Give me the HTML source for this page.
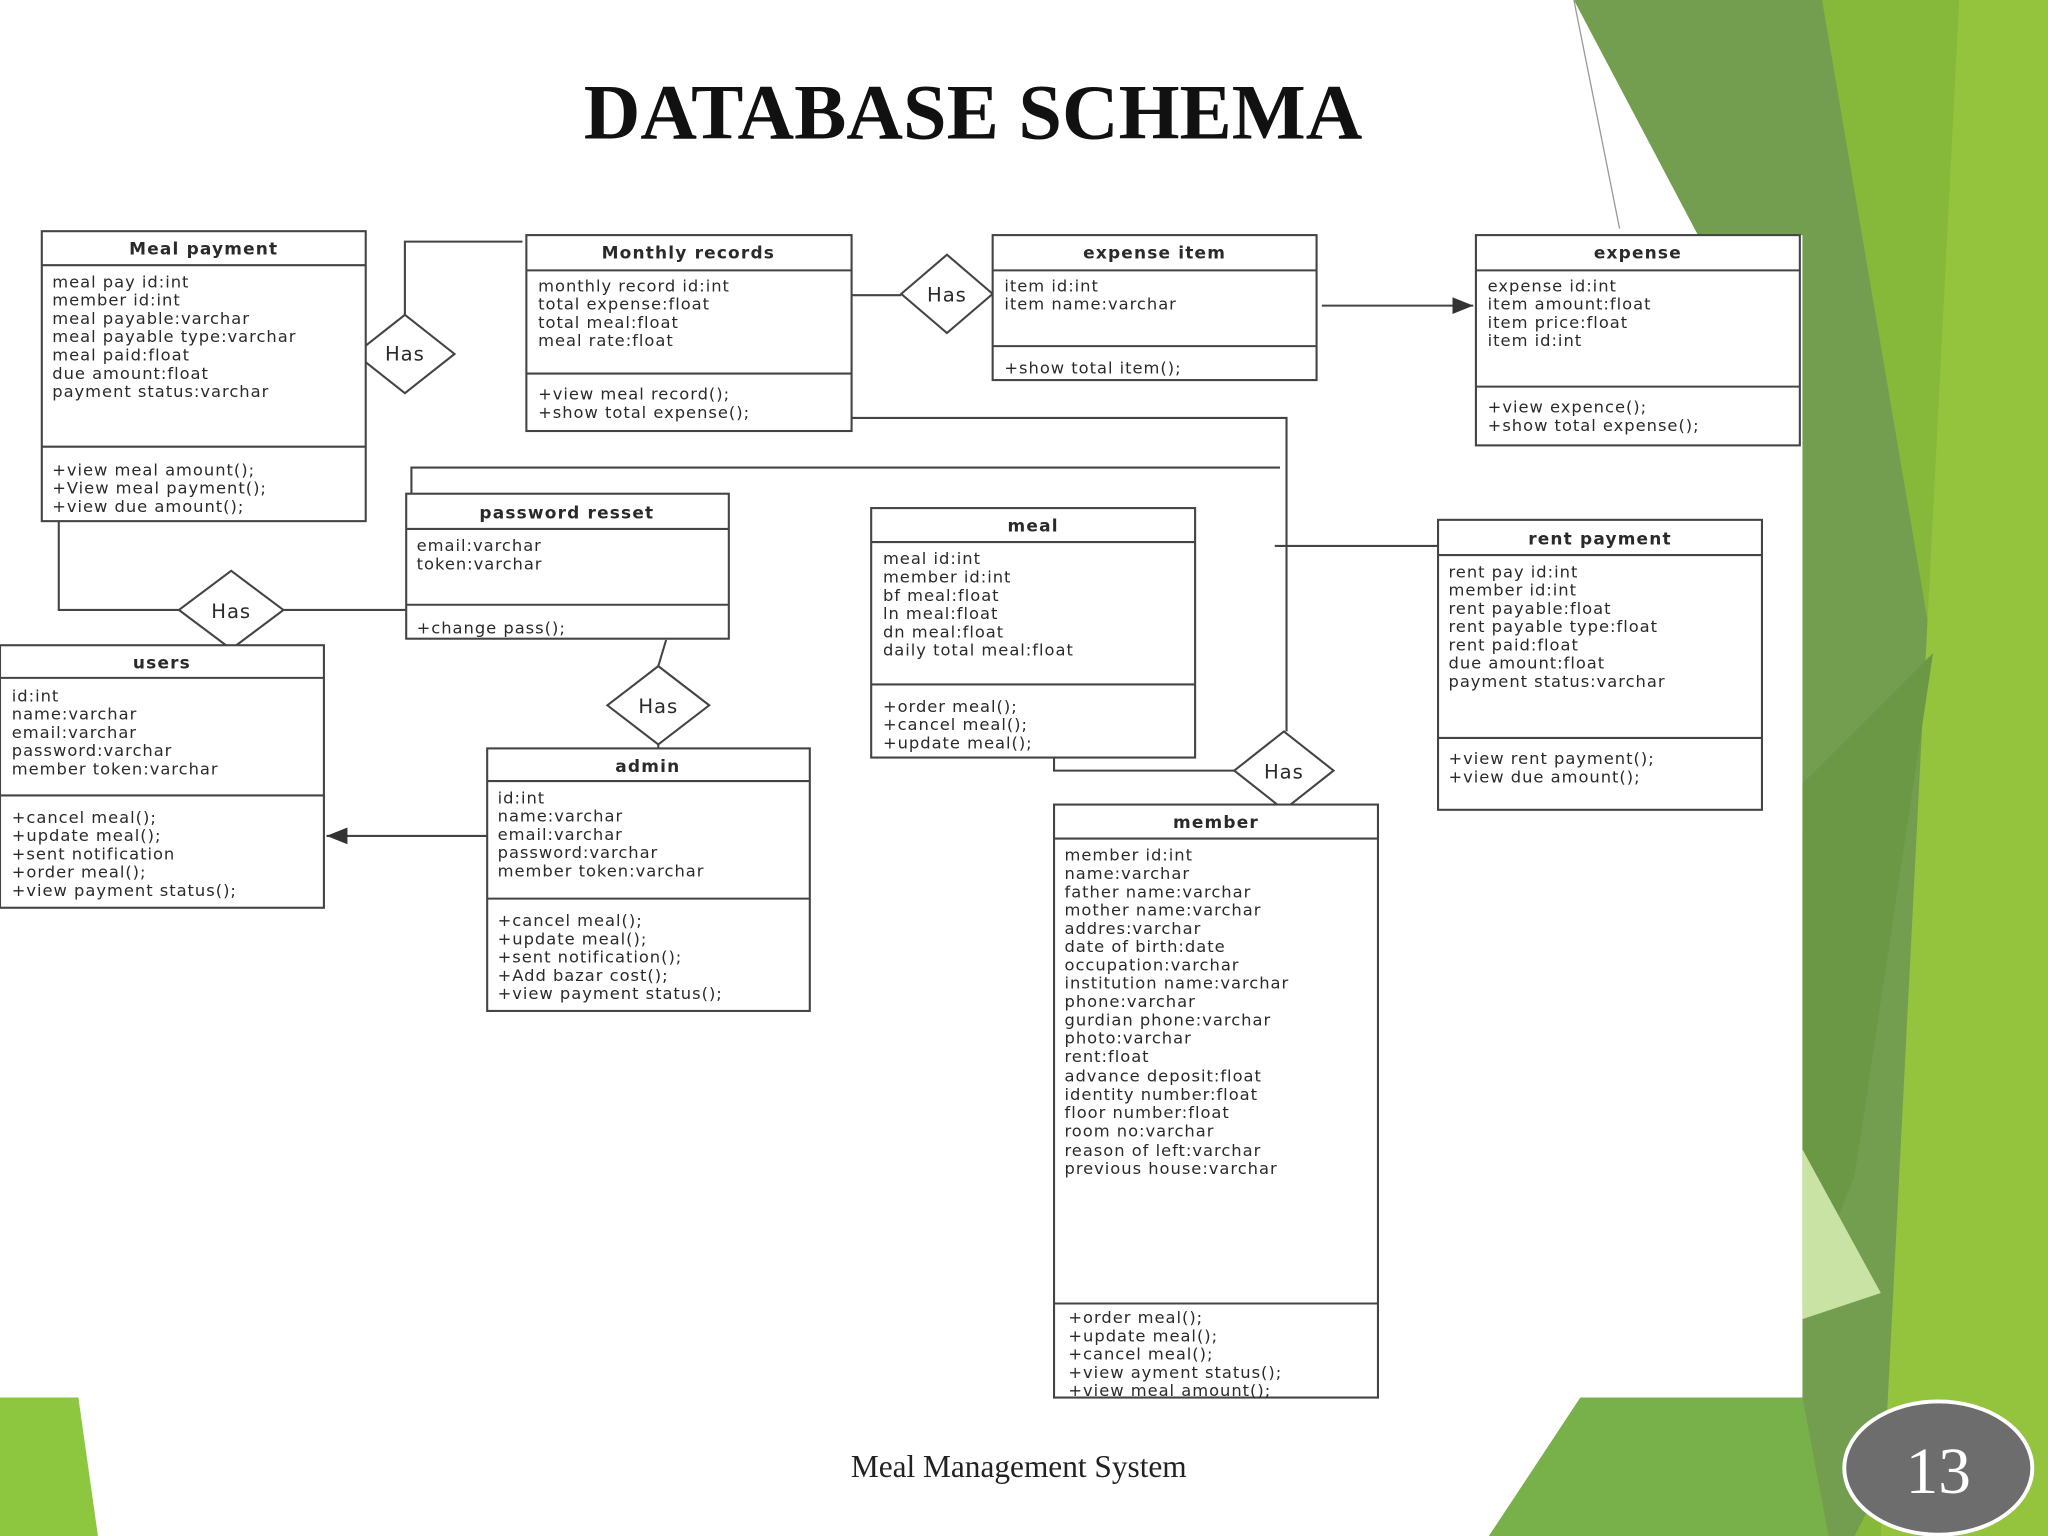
<!DOCTYPE html>
<html><head><meta charset="utf-8"><style>
html,body{margin:0;padding:0;background:#fff;}
svg{display:block;}
.t{font-family:"DejaVu Sans",sans-serif;font-size:12.5px;letter-spacing:0.75px;fill:#2a2a2a;}
.h{font-family:"DejaVu Sans",sans-serif;font-size:13px;letter-spacing:0.9px;font-weight:bold;fill:#2a2a2a;}
.b{fill:#fff;stroke:#444;stroke-width:1.6;}
.l{stroke:#444;stroke-width:1.6;fill:none;}
</style></head><body>
<svg width="2048" height="1536" viewBox="0 0 1568 1176" xmlns="http://www.w3.org/2000/svg">
<defs><marker id="a" markerWidth="10" markerHeight="8" refX="10" refY="4" orient="auto"><path d="M0,0L10,4L0,8z" fill="#333"/></marker></defs>
<rect width="1568" height="1176" fill="#fff"/>
<polygon points="1205,0 1568,0 1568,1176 1140,1176 1210,1070 1380,1070 1380,180 1300,180" fill="#739e50"/>
<polygon points="1395,0 1568,0 1568,1176 1420,1176 1560,900 1480,500" fill="#86b83a"/>
<polygon points="1500,0 1568,0 1568,1176 1440,1176" fill="#94c33d"/>
<polygon points="1380,600 1480,500 1420,900 1380,1000" fill="#6a9844"/>
<polygon points="1380,880 1440,990 1380,1010" fill="#c9e3a5"/>
<polygon points="1210,1070 1380,1070 1400,1176 1140,1176" fill="#78b04a"/>
<polygon points="0,1070 60,1070 75,1176 0,1176" fill="#8dc63f"/>
<line x1="1205" y1="0" x2="1240" y2="175" stroke="#999" stroke-width="1"/>
<text x="745" y="106" text-anchor="middle" font-family="Liberation Serif,serif" font-weight="bold" font-size="60" fill="#111">DATABASE SCHEMA</text>
<text x="780" y="1131" text-anchor="middle" font-family="Liberation Serif,serif" font-size="24" fill="#222">Meal Management System</text>
<ellipse cx="1484" cy="1124" rx="72" ry="51" fill="#6d6d6d" stroke="#fff" stroke-width="3"/>
<text x="1484" y="1143" text-anchor="middle" font-family="Liberation Serif,serif" font-size="50" fill="#fff">13</text>

<path class="l" d="M310,241V185H400"/>
<path class="l" d="M652,226H690"/>
<line class="l" x1="1012" y1="234" x2="1128" y2="234" marker-end="url(#a)"/>
<path class="l" d="M652,320H985V560"/>
<path class="l" d="M315,378V358H980"/>
<path class="l" d="M976,418H1101"/>
<path class="l" d="M807,580V590H945"/>
<path class="l" d="M45,399V467H137M217,467H311"/>
<path class="l" d="M510,490L504,510M504,570V573"/>
<line class="l" x1="373" y1="640" x2="250" y2="640" marker-end="url(#a)"/>

<g class="b">
<polygon points="272,271 310,241 348,271 310,301"/>
<polygon points="690,225 725,195 760,225 725,255"/>
<polygon points="137,467 177,437 217,467 177,497"/>
<polygon points="465,540 504,510 543,540 504,570"/>
<polygon points="945,590 983,560 1021,590 983,620"/>
</g>
<g class="t" text-anchor="middle">
<text x="310" y="276" font-size="15">Has</text><text x="725" y="231" font-size="15">Has</text><text x="177" y="473" font-size="15">Has</text><text x="504" y="546" font-size="15">Has</text><text x="983" y="596" font-size="15">Has</text>
</g>

<rect class="b" x="32" y="177" width="248" height="222"/><path class="l" d="M32,203H280M32,342H280"/>
<text class="h" x="156" y="195" text-anchor="middle">Meal payment</text>
<g class="t"><text x="40" y="220">meal pay id:int</text><text x="40" y="234">member id:int</text><text x="40" y="248">meal payable:varchar</text><text x="40" y="262">meal payable type:varchar</text><text x="40" y="276">meal paid:float</text><text x="40" y="290">due amount:float</text><text x="40" y="304">payment status:varchar</text>
<text x="40" y="364">+view meal amount();</text><text x="40" y="378">+View meal payment();</text><text x="40" y="392">+view due amount();</text></g>

<rect class="b" x="403" y="180" width="249" height="150"/><path class="l" d="M403,207H652M403,286H652"/>
<text class="h" x="527" y="198" text-anchor="middle">Monthly records</text>
<g class="t"><text x="412" y="223">monthly record id:int</text><text x="412" y="237">total expense:float</text><text x="412" y="251">total meal:float</text><text x="412" y="265">meal rate:float</text>
<text x="412" y="306">+view meal record();</text><text x="412" y="320">+show total expense();</text></g>

<rect class="b" x="760" y="180" width="248" height="111"/><path class="l" d="M760,207H1008M760,265H1008"/>
<text class="h" x="884" y="198" text-anchor="middle">expense item</text>
<g class="t"><text x="769" y="223">item id:int</text><text x="769" y="237">item name:varchar</text><text x="769" y="286">+show total item();</text></g>

<rect class="b" x="1130" y="180" width="248" height="161"/><path class="l" d="M1130,207H1378M1130,296H1378"/>
<text class="h" x="1254" y="198" text-anchor="middle">expense</text>
<g class="t"><text x="1139" y="223">expense id:int</text><text x="1139" y="237">item amount:float</text><text x="1139" y="251">item price:float</text><text x="1139" y="265">item id:int</text>
<text x="1139" y="316">+view expence();</text><text x="1139" y="330">+show total expense();</text></g>

<rect class="b" x="311" y="378" width="247" height="111"/><path class="l" d="M311,405H558M311,463H558"/>
<text class="h" x="434" y="397" text-anchor="middle">password resset</text>
<g class="t"><text x="319" y="422">email:varchar</text><text x="319" y="436">token:varchar</text><text x="319" y="485">+change pass();</text></g>

<rect class="b" x="667" y="389" width="248" height="191"/><path class="l" d="M667,415H915M667,524H915"/>
<text class="h" x="791" y="407" text-anchor="middle">meal</text>
<g class="t"><text x="676" y="432">meal id:int</text><text x="676" y="446">member id:int</text><text x="676" y="460">bf meal:float</text><text x="676" y="474">ln meal:float</text><text x="676" y="488">dn meal:float</text><text x="676" y="502">daily total meal:float</text>
<text x="676" y="545">+order meal();</text><text x="676" y="559">+cancel meal();</text><text x="676" y="573">+update meal();</text></g>

<rect class="b" x="1101" y="398" width="248" height="222"/><path class="l" d="M1101,425H1349M1101,565H1349"/>
<text class="h" x="1225" y="417" text-anchor="middle">rent payment</text>
<g class="t"><text x="1109" y="442">rent pay id:int</text><text x="1109" y="456">member id:int</text><text x="1109" y="470">rent payable:float</text><text x="1109" y="484">rent payable type:float</text><text x="1109" y="498">rent paid:float</text><text x="1109" y="512">due amount:float</text><text x="1109" y="526">payment status:varchar</text>
<text x="1109" y="585">+view rent payment();</text><text x="1109" y="599">+view due amount();</text></g>

<rect class="b" x="0" y="494" width="248" height="201"/><path class="l" d="M0,519H248M0,609H248"/>
<text class="h" x="124" y="512" text-anchor="middle">users</text>
<g class="t"><text x="9" y="537">id:int</text><text x="9" y="551">name:varchar</text><text x="9" y="565">email:varchar</text><text x="9" y="579">password:varchar</text><text x="9" y="593">member token:varchar</text>
<text x="9" y="630">+cancel meal();</text><text x="9" y="644">+update meal();</text><text x="9" y="658">+sent notification</text><text x="9" y="672">+order meal();</text><text x="9" y="686">+view payment status();</text></g>

<rect class="b" x="373" y="573" width="247" height="201"/><path class="l" d="M373,598H620M373,688H620"/>
<text class="h" x="496" y="591" text-anchor="middle">admin</text>
<g class="t"><text x="381" y="615">id:int</text><text x="381" y="629">name:varchar</text><text x="381" y="643">email:varchar</text><text x="381" y="657">password:varchar</text><text x="381" y="671">member token:varchar</text>
<text x="381" y="709">+cancel meal();</text><text x="381" y="723">+update meal();</text><text x="381" y="737">+sent notification();</text><text x="381" y="751">+Add bazar cost();</text><text x="381" y="765">+view payment status();</text></g>

<rect class="b" x="807" y="616" width="248" height="454"/><path class="l" d="M807,642H1055M807,998H1055"/>
<text class="h" x="931" y="634" text-anchor="middle">member</text>
<g class="t"><text x="815" y="659">member id:int</text><text x="815" y="673">name:varchar</text><text x="815" y="687">father name:varchar</text><text x="815" y="701">mother name:varchar</text><text x="815" y="715">addres:varchar</text><text x="815" y="729">date of birth:date</text><text x="815" y="743">occupation:varchar</text><text x="815" y="757">institution name:varchar</text><text x="815" y="771">phone:varchar</text><text x="815" y="785">gurdian phone:varchar</text><text x="815" y="799">photo:varchar</text><text x="815" y="813">rent:float</text><text x="815" y="828">advance deposit:float</text><text x="815" y="842">identity number:float</text><text x="815" y="856">floor number:float</text><text x="815" y="870">room no:varchar</text><text x="815" y="885">reason of left:varchar</text><text x="815" y="899">previous house:varchar</text>
<text x="818" y="1013">+order meal();</text><text x="818" y="1027">+update meal();</text><text x="818" y="1041">+cancel meal();</text><text x="818" y="1055">+view ayment status();</text><text x="818" y="1069">+view meal amount();</text></g>
</svg>
</body></html>
